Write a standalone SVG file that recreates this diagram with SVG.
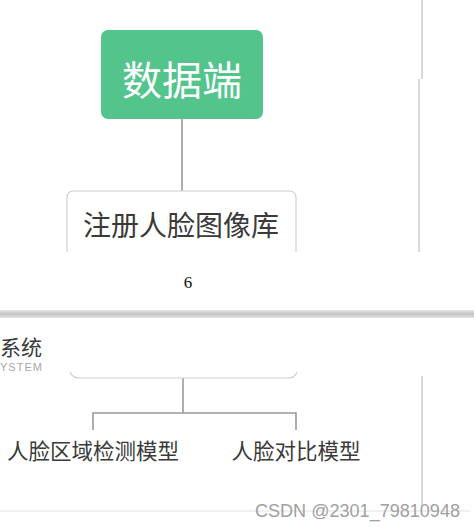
<svg xmlns="http://www.w3.org/2000/svg" width="474" height="527" viewBox="0 0 474 527">
<defs>
<style>
.cjk{font-family:"Noto Sans CJK SC","Noto Sans",sans-serif}
.conn{stroke:#9a9a9a;stroke-width:1.6;fill:none}
.frame{stroke:#c8c8c8;stroke-width:1.4;fill:none}
</style>
<linearGradient id="band" x1="0" y1="0" x2="0" y2="1">
<stop offset="0" stop-color="#e6e6e6"/>
<stop offset="0.5" stop-color="#c4c4c4"/>
<stop offset="1" stop-color="#e2e2e2"/>
</linearGradient>
</defs>
<rect width="474" height="527" fill="#ffffff"/>
<!-- page separator band -->
<rect x="0" y="310" width="474" height="8" fill="url(#band)"/>
<!-- right frame lines -->
<g id="frame-lines">
<line class="frame" x1="422" y1="0" x2="422" y2="79"/>
<line class="frame" x1="419" y1="79" x2="419" y2="252"/>
<line class="frame" x1="422" y1="376" x2="422" y2="506"/>
<line x1="0" y1="511" x2="470" y2="511" stroke="#e2e2e2" stroke-width="1.2"/>
</g>
<g id="connectors">
<line class="conn" x1="182" y1="119" x2="182" y2="191"/>
<line class="conn" x1="183" y1="378" x2="183" y2="413"/>
<polyline class="conn" points="93,430 93,413 296,413 296,430"/>
</g>
<g id="node-data">
<rect x="101" y="30" width="162" height="89" rx="7" fill="#52c48c"/>
<text class="cjk" x="182" y="95" font-size="40" fill="#ffffff" text-anchor="middle">数据端</text>
</g>
<g id="node-register">
<path d="M67,252 V198 Q67,191 74,191 H289 Q296,191 296,198 V252" fill="#ffffff" stroke="#cfcfcf" stroke-width="1.2"/>
<text class="cjk" x="181" y="236" font-size="28" fill="#3a3a3a" text-anchor="middle">注册人脸图像库</text>
</g>
<text x="188" y="288" font-family="Liberation Serif,serif" font-size="17" fill="#111" text-anchor="middle">6</text>
<g id="node-system">
<path d="M70,372 Q72,378 80,378 H288 Q295,378 297,372" fill="none" stroke="#cfcfcf" stroke-width="1.2"/>
<text class="cjk" x="0" y="355" font-size="21" fill="#3a3a3a">系统</text>
<text x="0" y="371" font-family="Liberation Sans,sans-serif" font-size="11" fill="#a8a8a8" letter-spacing="1">YSTEM</text>
</g>
<g id="node-detect">
<text class="cjk" x="93" y="459" font-size="21.5" fill="#3a3a3a" text-anchor="middle">人脸区域检测模型</text>
</g>
<g id="node-compare">
<text class="cjk" x="296" y="459" font-size="21.5" fill="#3a3a3a" text-anchor="middle">人脸对比模型</text>
</g>
<text x="255" y="517" font-family="Liberation Sans,sans-serif" font-size="17.5" fill="#a0a0a0" textLength="205" lengthAdjust="spacingAndGlyphs">CSDN @2301_79810948</text>
</svg>
